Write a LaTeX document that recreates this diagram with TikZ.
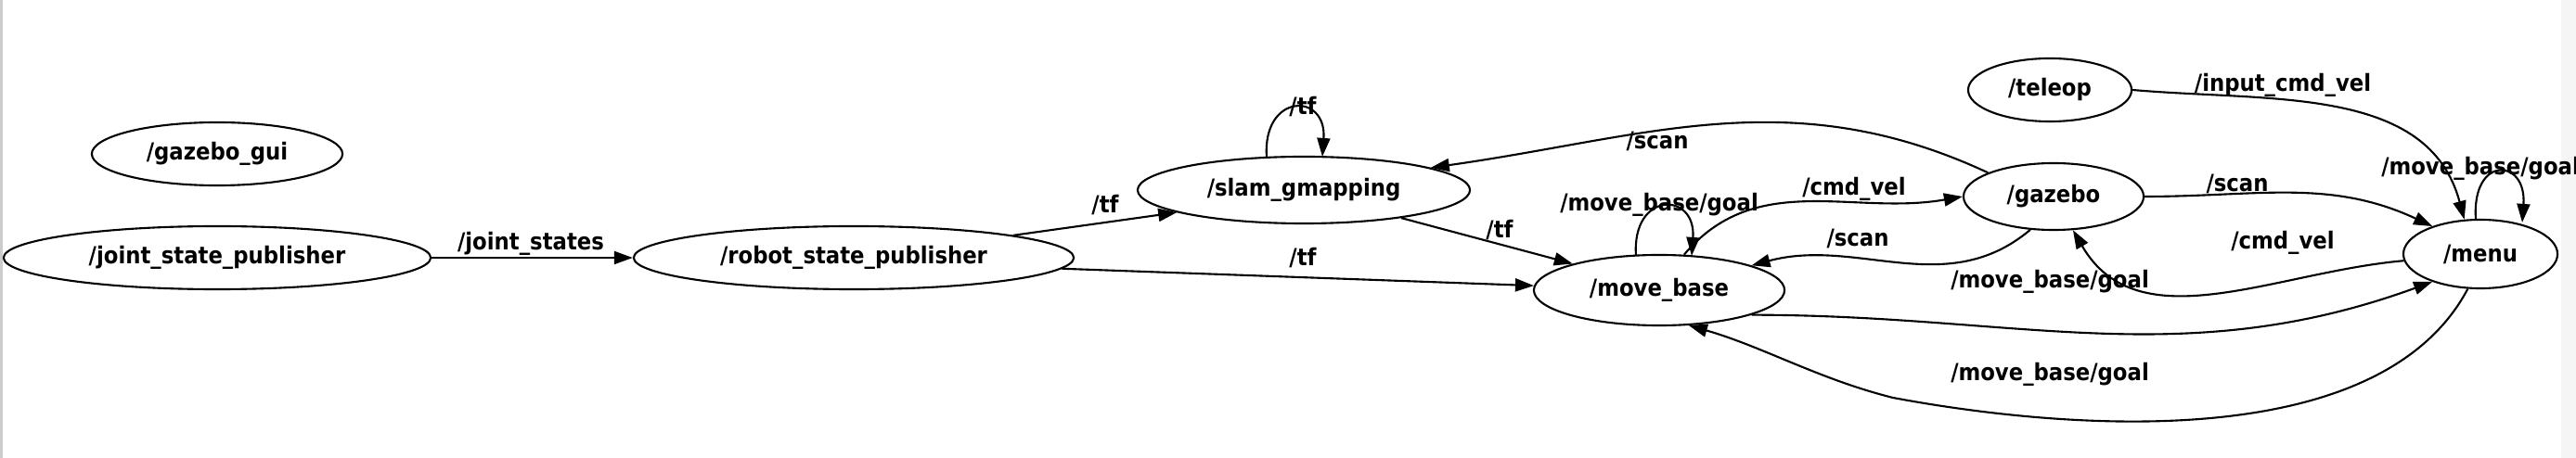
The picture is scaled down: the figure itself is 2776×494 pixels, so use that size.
\documentclass[tikz,border=0pt]{standalone}
\usepackage{fontspec}
\setmainfont{DejaVu Sans Condensed}
\usetikzlibrary{arrows.meta,shapes.geometric,calc}
\begin{document}
\begin{tikzpicture}[x=0.01cm,y=0.01cm,
  nd/.style={draw,ellipse,line width=0.6pt,inner sep=0pt,font=\bfseries\fontsize{7.2}{8}\selectfont},
  lb/.style={font=\bfseries\fontsize{7.2}{8}\selectfont},
  ed/.style={line width=0.6pt,-{Triangle[length=0.2cm,width=0.14cm]}}]
\useasboundingbox (0,0) rectangle (2776,494);
\draw[gray!40,line width=1pt] (1,0) -- (1,494);
\fill[gray!8] (2760,0) rectangle (2776,494);
\node[nd,minimum width=2.7cm,minimum height=0.68cm] (gg) at (234,328) {/gazebo\_gui};
\node[nd,minimum width=4.6cm,minimum height=0.68cm] (jsp) at (234,216) {/joint\_state\_publisher};
\node[nd,minimum width=4.74cm,minimum height=0.68cm] (rsp) at (920,216) {/robot\_state\_publisher};
\node[nd,minimum width=3.58cm,minimum height=0.72cm] (slam) at (1405,289) {/slam\_gmapping};
\node[nd,minimum width=2.7cm,minimum height=0.76cm] (mb) at (1788,181) {/move\_base};
\node[nd,minimum width=1.94cm,minimum height=0.72cm] (gz) at (2213,282) {/gazebo};
\node[nd,minimum width=1.76cm,minimum height=0.68cm] (tel) at (2209,397) {/teleop};
\node[nd,minimum width=1.66cm,minimum height=0.74cm] (menu) at (2673,220) {/menu};

\draw[ed] (jsp) -- (rsp);
\node[lb] at (572,231) {/joint\_states};
\draw[ed] (rsp.8) -- (slam.190);
\node[lb] at (1191,273) {/tf};
\draw[ed] (rsp.-3) -- (mb);
\node[lb] at (1404,216) {/tf};
\draw[ed] ($(slam.north)+(-40,-2)$) .. controls +(-5,70) and +(5,70) .. ($(slam.north)+(20,-1)$);
\node[lb] at (1404,379) {/tf};
\draw[ed] (slam.-16) -- (mb.163);
\node[lb] at (1616,246) {/tf};
\draw[ed] (gz.160) to[out=155,in=8] (slam.10);
\node[lb] at (1786,342) {/scan};
\draw[ed] (mb.55) to[out=50,in=190] (gz.west);
\node[lb] at (1998,290) {/cmd\_vel};
\draw[ed] (gz.235) to[out=220,in=15] (mb.15);
\node[lb] at (2002,237) {/scan};
\draw[ed] ($(mb.north)+(-25,-2)$) .. controls +(-5,70) and +(5,70) .. ($(mb.north)+(35,-2)$);
\node[lb] at (1788,273) {/move\_base/goal};
\draw[ed] (gz.east) to[out=0,in=155] (menu.150);
\node[lb] at (2411,296) {/scan};
\draw[ed] (menu.185) to[out=185,in=300] (gz.-60);
\node[lb] at (2460,232) {/cmd\_vel};
\draw[ed] (mb.-15) to[out=0,in=200] (menu.210);
\node[lb] at (2209,190) {/move\_base/goal};
\draw[ed] (menu.-110) .. controls (2560,-5) and (2200,35) .. (2040,65) .. controls (1960,85) and (1900,120) .. (mb.-50);
\node[lb] at (2209,90) {/move\_base/goal};
\draw[ed] (tel.east) to[out=-5,in=105] (menu.115);
\node[lb] at (2460,402) {/input\_cmd\_vel};
\draw[ed] ($(menu.north)+(-5,-1)$) .. controls +(-5,70) and +(5,70) .. ($(menu.north)+(45,-4)$);
\node[lb] at (2673,312) {/move\_base/goal};
\end{tikzpicture}
\end{document}
